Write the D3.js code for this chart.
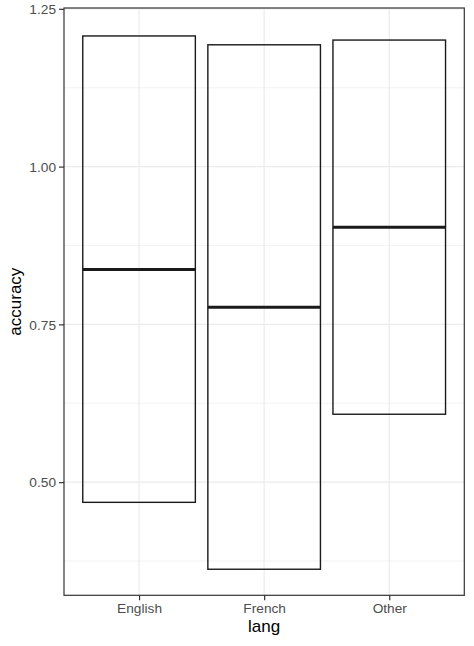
<!DOCTYPE html>
<html><head><meta charset="utf-8">
<script src="https://cdn.jsdelivr.net/npm/d3@7"></script>
<style>body{margin:0;background:#fff}svg{display:block}text{font-family:"Liberation Sans",Arial,sans-serif}</style>
</head><body><svg id="c" width="474" height="646"></svg>
<script>
const categories = ["English", "French", "Other"];
const upper = [1.207, 1.193, 1.2005];
const middle = [0.837, 0.777, 0.904];
const lower = [0.468, 0.362, 0.6076];
const yTicks = [0.50, 0.75, 1.00, 1.25];
const yMinor = [0.375, 0.625, 0.875, 1.125];

const svg = d3.select("#c");
const L = 64, R = 464.3, T = 8, B = 595.3;
const y = d3.scaleLinear().domain([0.3207, 1.2513]).range([B, T]);
const x = d3.scalePoint().domain(categories).range([L, R]).padding(0.6);
const unit = x.step();
const bw = 0.9 * unit;

const g = svg.append("g");
g.append("rect").attr("x", L).attr("y", T).attr("width", R - L).attr("height", B - T).attr("fill", "#fff");
g.selectAll(".mn").data(yMinor).join("line").attr("x1", L).attr("x2", R)
  .attr("y1", d => y(d)).attr("y2", d => y(d)).attr("stroke", "#EBEBEB").attr("stroke-width", 0.6);
g.selectAll(".mj").data(yTicks).join("line").attr("x1", L).attr("x2", R)
  .attr("y1", d => y(d)).attr("y2", d => y(d)).attr("stroke", "#EBEBEB").attr("stroke-width", 1.2);
g.selectAll(".vx").data(categories).join("line").attr("y1", T).attr("y2", B)
  .attr("x1", d => x(d)).attr("x2", d => x(d)).attr("stroke", "#EBEBEB").attr("stroke-width", 1.2);

const idx = categories.map((c, i) => i);
g.selectAll(".box").data(idx).join("rect")
  .attr("x", i => x(categories[i]) - bw / 2).attr("width", bw)
  .attr("y", i => y(upper[i])).attr("height", i => y(lower[i]) - y(upper[i]))
  .attr("fill", "none").attr("stroke", "#1a1a1a").attr("stroke-width", 1.4);
g.selectAll(".med").data(idx).join("line")
  .attr("x1", i => x(categories[i]) - bw / 2).attr("x2", i => x(categories[i]) + bw / 2)
  .attr("y1", i => y(middle[i])).attr("y2", i => y(middle[i]))
  .attr("stroke", "#1a1a1a").attr("stroke-width", 3);

g.append("rect").attr("x", L).attr("y", T).attr("width", R - L).attr("height", B - T)
  .attr("fill", "none").attr("stroke", "#333333").attr("stroke-width", 1.2);

// y axis
const ya = svg.append("g").attr("transform", `translate(${L},0)`)
  .call(d3.axisLeft(y).tickValues(yTicks).tickFormat(d3.format(".2f")).tickSize(5).tickPadding(3));
ya.select(".domain").remove();
ya.selectAll("line").attr("stroke", "#333333").attr("stroke-width", 1.2);
ya.selectAll("text").attr("fill", "#4D4D4D").style("font-size", "13.7px").attr("dy", "0.35em");

// x axis
const xa = svg.append("g").attr("transform", `translate(0,${B})`)
  .call(d3.axisBottom(x).tickSize(5).tickPadding(3));
xa.select(".domain").remove();
xa.selectAll("line").attr("stroke", "#333333").attr("stroke-width", 1.2);
xa.selectAll("text").attr("fill", "#4D4D4D").style("font-size", "13.7px");

svg.append("text").attr("x", (L + R) / 2).attr("y", 632).attr("text-anchor", "middle")
  .style("font-size", "17px").attr("fill", "#000").text("lang");
svg.append("text").attr("transform", `translate(21,${(T + B) / 2}) rotate(-90)`).attr("text-anchor", "middle")
  .style("font-size", "17px").attr("fill", "#000").text("accuracy");
</script></body></html>
